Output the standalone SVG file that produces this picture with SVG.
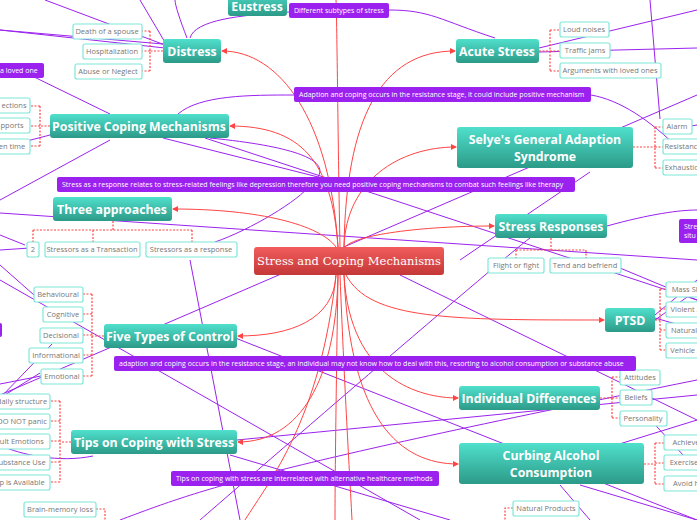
<svg xmlns="http://www.w3.org/2000/svg" width="697" height="520" viewBox="0 0 697 520">
<defs>
<linearGradient id="tg" x1="0" y1="0" x2="0" y2="1"><stop offset="0" stop-color="#4fe0cc"/><stop offset="1" stop-color="#2c9a88"/></linearGradient>
<linearGradient id="rg" x1="0" y1="0" x2="0" y2="1"><stop offset="0" stop-color="#f25c5c"/><stop offset="1" stop-color="#c43838"/></linearGradient>
<marker id="ar" markerWidth="6" markerHeight="6" refX="5" refY="3" orient="auto"><path d="M0,0 L6,3 L0,6 z" fill="#f44"/></marker>
<style>
.m{fill:url(#tg);rx:3}
.mt{font-family:"Open Sans","DejaVu Sans",sans-serif;font-weight:bold;font-size:12.3px;fill:#fff;text-anchor:middle}
.l{fill:#fff;stroke:#7ee8d9;stroke-width:1.2}
.lt{font-family:"Open Sans","DejaVu Sans",sans-serif;font-size:7.5px;fill:#777;text-anchor:middle}
.p{fill:#9b22ee}
.pt{font-family:"Open Sans","DejaVu Sans",sans-serif;font-size:7px;fill:#fff}
.rc{fill:none;stroke:#f44;stroke-width:1;marker-end:url(#ar)}
.rn{fill:none;stroke:#f44;stroke-width:1}
.rd{fill:none;stroke:#f44;stroke-width:1.2;stroke-dasharray:2,1.5}
.pc{fill:none;stroke:#9b22ee;stroke-width:1}
</style>
</defs>
<g id="connectors">
<path class="pc" d="M0,30 L165,48 M45,0 L165,45 M140,0 L166,44 M0,30 L163,44"/>
<path class="pc" d="M187,38 C180,20 175,5 175,0 M190,38 C195,20 240,15 289,12 M389,10 C430,10 440,20 495,38"/>
<path class="pc" d="M30,75 L110,114 M178,114 C200,95 250,95 294,95 M591,95 C620,100 650,120 680,150 M205,138 L697,300 M163,138 L350,185 M210,138 C330,150 330,170 310,185 C300,200 250,230 215,242"/>
<path class="pc" d="M0,148 L50,135 M0,200 L110,140 M0,213 L697,260 M0,250 L30,248 M0,235 L25,245"/>
<path class="pc" d="M190,260 L240,520 M0,265 L34,295 M52,344 L0,398 M41,376 L0,384 M40,373 L0,398"/>
<path class="pc" d="M237,440 L697,395 M93,456 C60,463 20,455 0,445 M230,455 L450,520 M0,280 L420,520"/>
<path class="pc" d="M607,226 C650,214 680,210 697,210 M530,238 C500,260 200,520 200,520 M0,395 L697,95 M539,48 L697,10 M539,52 L697,48"/>
<path class="pc" d="M620,268 L697,300 M655,318 L697,330 M655,320 L697,290 M655,315 L697,280 M400,275 L697,420 M120,520 C200,490 250,470 697,380"/>
<path class="pc" d="M590,172 L460,260 M650,0 L660,119 M680,128 L697,125 M645,414 L697,470 M580,485 L697,520 M600,450 L697,420 M560,485 L590,520 M215,330 L697,520"/>
<path class="rc" d="M338,247 C330,120 280,51 222,51"/>
<path class="rc" d="M338,247 C332,160 300,126 230,126"/>
<path class="rc" d="M336,247 C320,225 260,209 173,209"/>
<path class="rc" d="M336,275 C334,320 290,336 238,336"/>
<path class="rc" d="M338,275 C336,380 300,442 238,442"/>
<path class="rn" d="M338,275 C336,400 335,480 335,520"/>
<path class="rn" d="M340,275 C345,400 350,480 352,520"/>
<path class="rn" d="M336,275 C320,420 270,480 245,520"/>
<path class="rn" d="M340,247 C338,150 337,20 336,0"/>
<path class="rc" d="M344,247 C346,120 380,51 455,51"/>
<path class="rc" d="M344,247 C346,180 400,147 456,147"/>
<path class="rc" d="M345,247 C355,235 420,226 494,226"/>
<path class="rc" d="M346,275 C370,320 450,320 604,320"/>
<path class="rc" d="M344,275 C350,380 420,398 458,398"/>
<path class="rc" d="M344,275 C350,420 400,464 458,464"/>
<path class="rd" d="M163,51 H150 M150,31 H142 M150,51 H142 M150,71 H142 M150,31 V71"/>
<path class="rd" d="M50,126 H40 M40,106 H30 M40,126 H30 M40,146 H30 M40,106 V146"/>
<path class="rd" d="M113,221 V230 M33,230 H192 M33,230 V242 M93,230 V242 M192,230 V242"/>
<path class="rd" d="M104,336 H92 M92,294 H83 M92,314 H83 M92,335 H83 M92,355 H83 M92,376 H83 M92,294 V376"/>
<path class="rd" d="M71,442 H60 M60,401 H50 M60,421 H50 M60,441 H50 M60,462 H50 M60,482 H50 M60,401 V482"/>
<path class="rd" d="M96,509 H105 V520 M513,508 H505 V520"/>
<path class="rd" d="M539,51 H550 M550,30 H560 M550,51 H560 M550,71 H560 M550,30 V71"/>
<path class="rd" d="M633,147 H655 M655,127 H663 M655,147 H663 M655,168 H663 M655,127 V168"/>
<path class="rd" d="M551,238 V250 M516,250 H586 M516,250 V258 M586,250 V258"/>
<path class="rd" d="M655,320 H660 M660,289 H666 M660,309 H666 M660,330 H666 M660,350 H666 M660,289 V350"/>
<path class="rd" d="M600,398 H612 M612,377 H620 M612,398 H620 M612,418 H620 M612,377 V418"/>
<path class="rd" d="M644,464 H655 M655,443 H664 M655,463 H664 M655,484 H664 M655,443 V484"/>
</g>
<g id="center"><rect x="254" y="247" width="190" height="28" rx="3" fill="url(#rg)"/><text x="349" y="265" font-family="'DejaVu Serif',serif" font-size="11.5" fill="#fff" text-anchor="middle">Stress and Coping Mechanisms</text></g>
<g id="eustress"><rect class="m" x="228" y="-10" width="59" height="26"/><text class="mt" x="257" y="11">Eustress</text></g>
<g id="distress"><rect class="m" x="163" y="39" width="58" height="24"/><text class="mt" x="192" y="56">Distress</text></g>
<g id="pcm"><rect class="m" x="50" y="114" width="179" height="24"/><text class="mt" x="139" y="131">Positive Coping Mechanisms</text></g>
<g id="three"><rect class="m" x="53" y="197" width="119" height="24"/><text class="mt" x="112" y="214">Three approaches</text></g>
<g id="five"><rect class="m" x="104" y="324" width="133" height="24"/><text class="mt" x="170" y="341">Five Types of Control</text></g>
<g id="tips"><rect class="m" x="71" y="430" width="166" height="24"/><text class="mt" x="154" y="447">Tips on Coping with Stress</text></g>
<g id="acute"><rect class="m" x="456" y="39" width="83" height="24"/><text class="mt" x="497" y="56">Acute Stress</text></g>
<g id="selye"><rect class="m" x="457" y="127" width="176" height="41"/><text class="mt" x="545" y="144">Selye's General Adaption</text><text class="mt" x="545" y="161">Syndrome</text></g>
<g id="responses"><rect class="m" x="495" y="214" width="112" height="24"/><text class="mt" x="551" y="231">Stress Responses</text></g>
<g id="ptsd"><rect class="m" x="605" y="308" width="50" height="24"/><text class="mt" x="630" y="325">PTSD</text></g>
<g id="indiv"><rect class="m" x="459" y="386" width="141" height="24"/><text class="mt" x="529" y="403">Individual Differences</text></g>
<g id="curb"><rect class="m" x="459" y="443" width="185" height="41"/><text class="mt" x="551" y="460">Curbing Alcohol</text><text class="mt" x="551" y="477">Consumption</text></g>
<g id="leaves">
<rect class="l" x="73" y="24" width="69" height="15" rx="2"/><text class="lt" x="107" y="34">Death of a spouse</text>
<rect class="l" x="83" y="44" width="59" height="15" rx="2"/><text class="lt" x="112" y="54">Hospitalization</text>
<rect class="l" x="75" y="64" width="67" height="15" rx="2"/><text class="lt" x="108" y="74">Abuse or Neglect</text>
<rect class="l" x="-10" y="98" width="40" height="15" rx="2"/><text class="lt" x="14" y="108">ections</text>
<rect class="l" x="-10" y="118" width="40" height="15" rx="2"/><text class="lt" x="12" y="128">pports</text>
<rect class="l" x="-10" y="139" width="40" height="15" rx="2"/><text class="lt" x="12" y="149">en time</text>
<rect class="l" x="27" y="242" width="12" height="15" rx="2"/><text class="lt" x="33" y="252">2</text>
<rect class="l" x="45" y="242" width="95" height="15" rx="2"/><text class="lt" x="92" y="252">Stressors as a Transaction</text>
<rect class="l" x="146" y="242" width="91" height="15" rx="2"/><text class="lt" x="191" y="252">Stressors as a response</text>
<rect class="l" x="34" y="287" width="49" height="15" rx="2"/><text class="lt" x="58" y="297">Behavioural</text>
<rect class="l" x="43" y="307" width="40" height="15" rx="2"/><text class="lt" x="63" y="317">Cognitive</text>
<rect class="l" x="40" y="328" width="43" height="15" rx="2"/><text class="lt" x="61" y="338">Decisional</text>
<rect class="l" x="29" y="348" width="54" height="15" rx="2"/><text class="lt" x="56" y="358">Informational</text>
<rect class="l" x="41" y="369" width="42" height="15" rx="2"/><text class="lt" x="62" y="379">Emotional</text>
<rect class="l" x="-10" y="394" width="60" height="15" rx="2"/><text class="lt" x="22" y="404">daily structure</text>
<rect class="l" x="-10" y="414" width="60" height="15" rx="2"/><text class="lt" x="22" y="424">DO NOT panic</text>
<rect class="l" x="-10" y="434" width="60" height="15" rx="2"/><text class="lt" x="20" y="444">cult Emotions</text>
<rect class="l" x="-10" y="455" width="60" height="15" rx="2"/><text class="lt" x="22" y="465">ubstance Use</text>
<rect class="l" x="-10" y="475" width="60" height="15" rx="2"/><text class="lt" x="22" y="485">p is Available</text>
<rect class="l" x="24" y="502" width="72" height="15" rx="2"/><text class="lt" x="60" y="512">Brain-memory loss</text>
<rect class="l" x="560" y="22" width="49" height="15" rx="2"/><text class="lt" x="584" y="32">Loud noises</text>
<rect class="l" x="560" y="43" width="50" height="15" rx="2"/><text class="lt" x="585" y="53">Traffic jams</text>
<rect class="l" x="560" y="63" width="101" height="15" rx="2"/><text class="lt" x="610" y="73">Arguments with loved ones</text>
<rect class="l" x="663" y="119" width="29" height="15" rx="2"/><text class="lt" x="677" y="129">Alarm</text>
<rect class="l" x="663" y="139" width="40" height="15" rx="2"/><text class="lt" x="683" y="149">Resistance</text>
<rect class="l" x="663" y="160" width="40" height="15" rx="2"/><text class="lt" x="684" y="170">Exhaustion</text>
<rect class="l" x="488" y="258" width="56" height="15" rx="2"/><text class="lt" x="516" y="268">Flight or fight</text>
<rect class="l" x="550" y="258" width="71" height="15" rx="2"/><text class="lt" x="585" y="268">Tend and befriend</text>
<rect class="l" x="666" y="282" width="40" height="15" rx="2"/><text class="lt" x="686" y="292">Mass Sh</text>
<rect class="l" x="666" y="302" width="40" height="15" rx="2"/><text class="lt" x="686" y="312">Violent A</text>
<rect class="l" x="666" y="323" width="40" height="15" rx="2"/><text class="lt" x="684" y="333">Natural</text>
<rect class="l" x="666" y="343" width="40" height="15" rx="2"/><text class="lt" x="686" y="353">Vehicle A</text>
<rect class="l" x="620" y="370" width="40" height="15" rx="2"/><text class="lt" x="640" y="380">Attitudes</text>
<rect class="l" x="620" y="390" width="32" height="15" rx="2"/><text class="lt" x="636" y="400">Beliefs</text>
<rect class="l" x="620" y="411" width="47" height="15" rx="2"/><text class="lt" x="643" y="421">Personality</text>
<rect class="l" x="664" y="435" width="40" height="15" rx="2"/><text class="lt" x="686" y="445">Achieve</text>
<rect class="l" x="664" y="455" width="40" height="15" rx="2"/><text class="lt" x="684" y="465">Exercise</text>
<rect class="l" x="664" y="476" width="40" height="15" rx="2"/><text class="lt" x="687" y="486">Avoid hi</text>
<rect class="l" x="513" y="501" width="66" height="15" rx="2"/><text class="lt" x="546" y="511">Natural Products</text>
</g>
<g id="notes">
<rect class="p" x="289" y="3" width="100" height="15" rx="2"/><text class="pt" x="294" y="13">Different subtypes of stress</text>
<rect class="p" x="-5" y="63" width="49" height="15" rx="2"/><text class="pt" x="0" y="73">a loved one</text>
<rect class="p" x="294" y="87" width="297" height="15" rx="2"/><text class="pt" x="299" y="97">Adaption and coping occurs in the resistance stage, it could include positive mechanism</text>
<rect class="p" x="57" y="177" width="518" height="15" rx="2"/><text class="pt" x="62" y="187">Stress as a response relates to stress-related feelings like depression therefore you need positive coping mechanisms to combat such feelings like therapy</text>
<rect class="p" x="114" y="356" width="522" height="15" rx="2"/><text class="pt" x="119" y="366">adaption and coping occurs in the resistance stage, an individual may not know how to deal with this, resorting to alcohol consumption or substance abuse</text>
<rect class="p" x="171" y="471" width="268" height="15" rx="2"/><text class="pt" x="176" y="481">Tips on coping with stress are interrelated with alternative healthcare methods</text>
<rect class="p" x="679" y="219" width="24" height="24" rx="2"/><text class="pt" x="684" y="229">Stre</text><text class="pt" x="684" y="238">situ</text>
<rect class="p" x="-5" y="323" width="7" height="14" rx="2"/>
</g>
</svg>
